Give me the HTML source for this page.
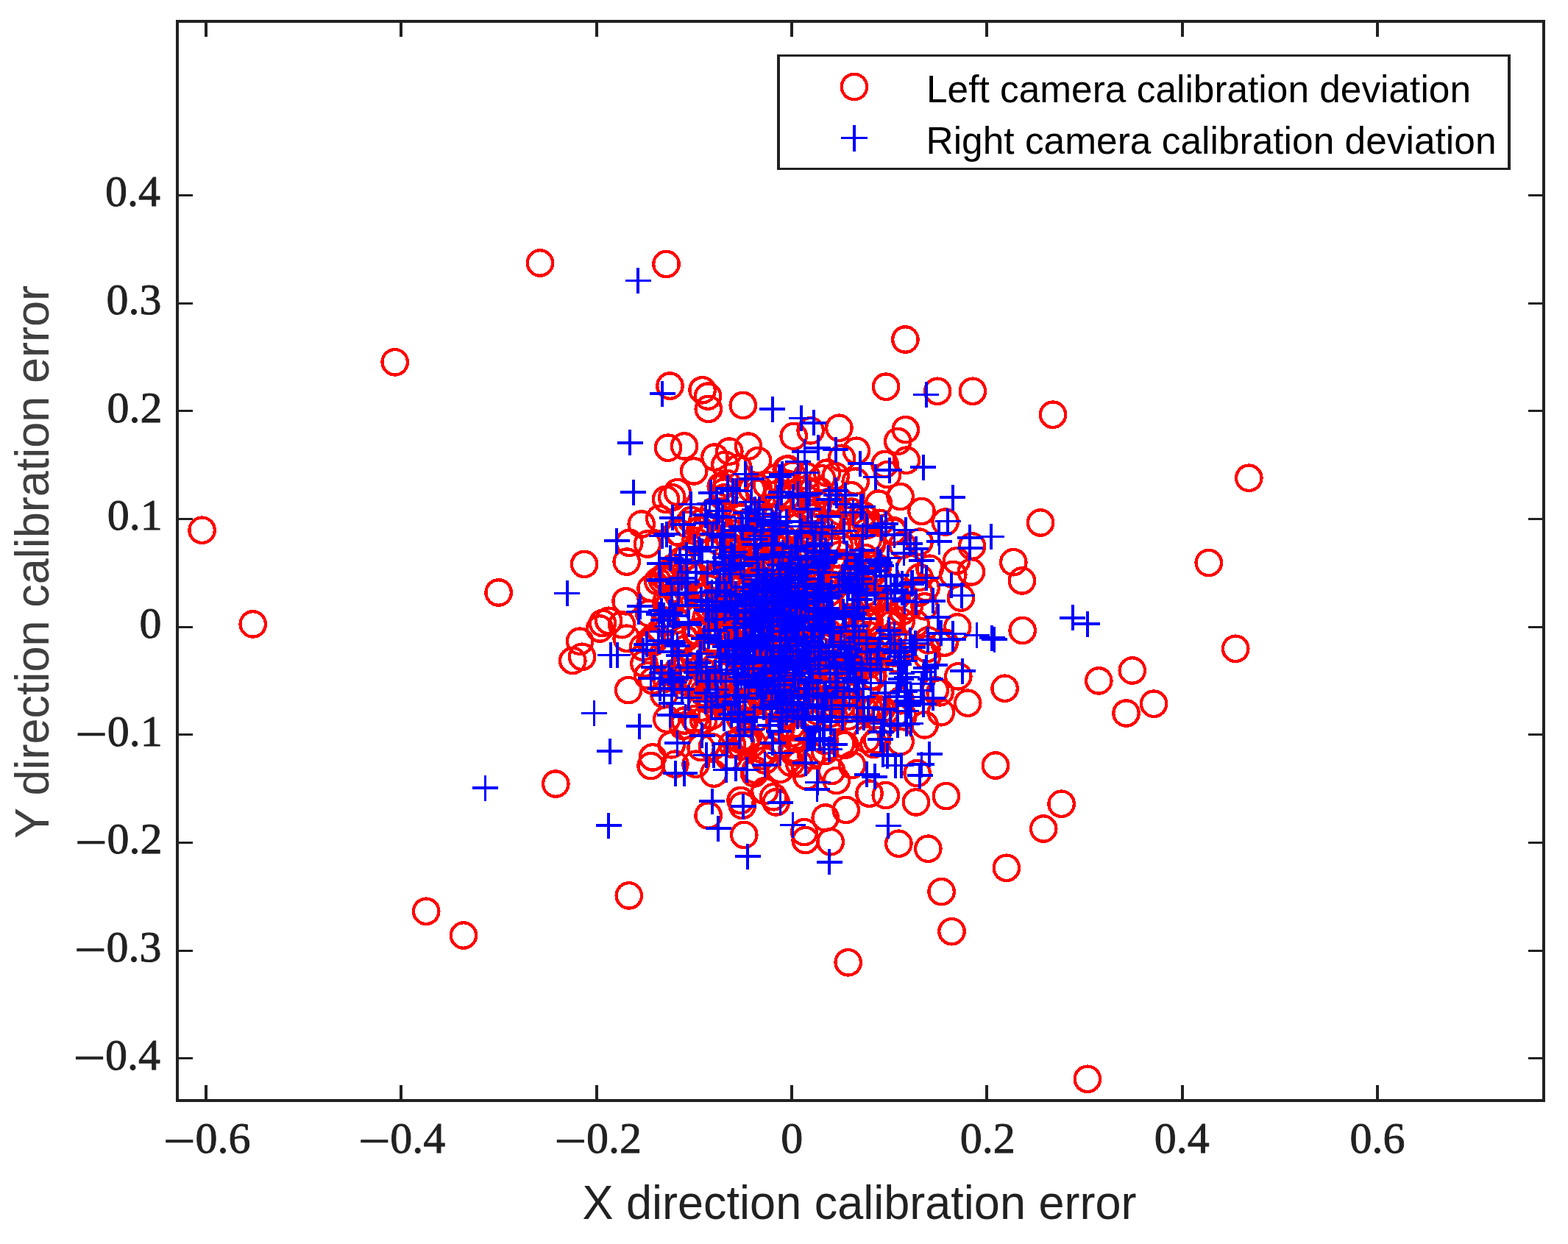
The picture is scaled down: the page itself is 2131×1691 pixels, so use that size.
<!DOCTYPE html>
<html><head><meta charset="utf-8"><title>Calibration error scatter</title>
<style>html,body{margin:0;padding:0;background:#fff;overflow:hidden}svg{display:block}</style>
</head><body><svg width="2131" height="1691" viewBox="0 0 2131 1691"><rect x="0" y="0" width="2131" height="1691" fill="#fff"/><clipPath id="c"><rect x="241.2" y="29" width="1856.8" height="1467"/></clipPath><g clip-path="url(#c)"><g fill="none" stroke="#f00" stroke-width="4.3" shape-rendering="crispEdges"><circle cx="908.0" cy="608.7" r="17.2"/><circle cx="930.1" cy="606.4" r="17.2"/><circle cx="1017.1" cy="606.6" r="17.2"/><circle cx="991.3" cy="613.6" r="17.2"/><circle cx="971.4" cy="621.6" r="17.2"/><circle cx="1030.1" cy="626.1" r="17.2"/><circle cx="1078.7" cy="592.9" r="17.2"/><circle cx="1068.8" cy="638.0" r="17.2"/><circle cx="943.2" cy="640.4" r="17.2"/><circle cx="987.8" cy="656.8" r="17.2"/><circle cx="1041.8" cy="659.2" r="17.2"/><circle cx="920.9" cy="669.1" r="17.2"/><circle cx="913.3" cy="676.2" r="17.2"/><circle cx="970.2" cy="694.4" r="17.2"/><circle cx="1007.8" cy="703.7" r="17.2"/><circle cx="871.7" cy="712.5" r="17.2"/><circle cx="896.3" cy="704.9" r="17.2"/><circle cx="855.3" cy="737.8" r="17.2"/><circle cx="879.9" cy="739.5" r="17.2"/><circle cx="851.7" cy="763.6" r="17.2"/><circle cx="935.0" cy="713.1" r="17.2"/><circle cx="959.7" cy="717.8" r="17.2"/><circle cx="1068.8" cy="675.6" r="17.2"/><circle cx="1140.4" cy="581.7" r="17.2"/><circle cx="1230.8" cy="584.1" r="17.2"/><circle cx="1220.2" cy="599.9" r="17.2"/><circle cx="1163.9" cy="612.8" r="17.2"/><circle cx="1144.0" cy="622.8" r="17.2"/><circle cx="1232.0" cy="625.7" r="17.2"/><circle cx="1202.6" cy="631.0" r="17.2"/><circle cx="1124.0" cy="642.7" r="17.2"/><circle cx="1162.7" cy="654.5" r="17.2"/><circle cx="1206.1" cy="645.1" r="17.2"/><circle cx="1101.7" cy="585.3" r="17.2"/><circle cx="1113.5" cy="667.4" r="17.2"/><circle cx="1156.9" cy="673.2" r="17.2"/><circle cx="1223.7" cy="675.0" r="17.2"/><circle cx="1252.5" cy="694.9" r="17.2"/><circle cx="1284.7" cy="709.6" r="17.2"/><circle cx="1249.5" cy="736.6" r="17.2"/><circle cx="1321.1" cy="742.5" r="17.2"/><circle cx="1300.0" cy="762.4" r="17.2"/><circle cx="1214.4" cy="721.3" r="17.2"/><circle cx="1195.6" cy="710.8" r="17.2"/><circle cx="1131.1" cy="701.4" r="17.2"/><circle cx="850.6" cy="817.3" r="17.2"/><circle cx="851.7" cy="867.7" r="17.2"/><circle cx="854.1" cy="938.1" r="17.2"/><circle cx="884.6" cy="799.7" r="17.2"/><circle cx="882.2" cy="833.7" r="17.2"/><circle cx="886.9" cy="873.6" r="17.2"/><circle cx="1263.6" cy="772.7" r="17.2"/><circle cx="1295.3" cy="780.9" r="17.2"/><circle cx="1319.9" cy="777.4" r="17.2"/><circle cx="1305.9" cy="812.6" r="17.2"/><circle cx="1301.2" cy="852.5" r="17.2"/><circle cx="1283.6" cy="873.6" r="17.2"/><circle cx="1229.0" cy="877.1" r="17.2"/><circle cx="1260.1" cy="892.4" r="17.2"/><circle cx="1302.3" cy="919.3" r="17.2"/><circle cx="1270.7" cy="938.1" r="17.2"/><circle cx="1315.2" cy="955.7" r="17.2"/><circle cx="1249.5" cy="805.5" r="17.2"/><circle cx="1256.6" cy="824.3" r="17.2"/><circle cx="906.3" cy="977.7" r="17.2"/><circle cx="947.9" cy="982.4" r="17.2"/><circle cx="956.1" cy="978.9" r="17.2"/><circle cx="912.7" cy="1012.3" r="17.2"/><circle cx="886.9" cy="1029.4" r="17.2"/><circle cx="884.6" cy="1041.1" r="17.2"/><circle cx="917.4" cy="1038.7" r="17.2"/><circle cx="945.6" cy="1038.7" r="17.2"/><circle cx="952.6" cy="1015.9" r="17.2"/><circle cx="970.2" cy="1051.6" r="17.2"/><circle cx="967.9" cy="1015.3" r="17.2"/><circle cx="994.9" cy="1011.8" r="17.2"/><circle cx="1013.6" cy="1009.4" r="17.2"/><circle cx="1026.5" cy="1046.9" r="17.2"/><circle cx="1039.4" cy="1075.1" r="17.2"/><circle cx="1051.2" cy="1083.3" r="17.2"/><circle cx="1006.6" cy="1088.0" r="17.2"/><circle cx="1008.9" cy="1095.0" r="17.2"/><circle cx="962.6" cy="1108.5" r="17.2"/><circle cx="1011.3" cy="1134.9" r="17.2"/><circle cx="1054.7" cy="1090.4" r="17.2"/><circle cx="1256.6" cy="985.4" r="17.2"/><circle cx="1278.9" cy="968.3" r="17.2"/><circle cx="1285.9" cy="1082.1" r="17.2"/><circle cx="1244.9" cy="1090.4" r="17.2"/><circle cx="1246.6" cy="1051.1" r="17.2"/><circle cx="1223.7" cy="1008.2" r="17.2"/><circle cx="1203.8" cy="1081.0" r="17.2"/><circle cx="1181.5" cy="1078.6" r="17.2"/><circle cx="1149.8" cy="1100.9" r="17.2"/><circle cx="1121.7" cy="1111.5" r="17.2"/><circle cx="1128.7" cy="1144.3" r="17.2"/><circle cx="1094.7" cy="1142.0" r="17.2"/><circle cx="1221.4" cy="1146.7" r="17.2"/><circle cx="1261.3" cy="1153.7" r="17.2"/><circle cx="1158.0" cy="1039.9" r="17.2"/><circle cx="1136.9" cy="1061.0" r="17.2"/><circle cx="910.5" cy="524.6" r="17.2"/><circle cx="954.6" cy="530.3" r="17.2"/><circle cx="962.1" cy="538.6" r="17.2"/><circle cx="962.8" cy="555.9" r="17.2"/><circle cx="1009.8" cy="550.9" r="17.2"/><circle cx="1003.4" cy="636.2" r="17.2"/><circle cx="985.4" cy="631.7" r="17.2"/><circle cx="1274.1" cy="531.8" r="17.2"/><circle cx="1321.9" cy="531.8" r="17.2"/><circle cx="794.1" cy="766.9" r="17.2"/><circle cx="818.9" cy="847.0" r="17.2"/><circle cx="815.1" cy="854.5" r="17.2"/><circle cx="845.2" cy="849.2" r="17.2"/><circle cx="788.1" cy="871.7" r="17.2"/><circle cx="791.1" cy="892.8" r="17.2"/><circle cx="778.3" cy="898.0" r="17.2"/><circle cx="1277.6" cy="941.3" r="17.2"/><circle cx="1093.1" cy="1131.1" r="17.2"/><circle cx="827.1" cy="843.8" r="17.2"/><circle cx="905.1" cy="678.8" r="17.2"/><circle cx="733.9" cy="357.5" r="17.2"/><circle cx="905.5" cy="359.0" r="17.2"/><circle cx="536.7" cy="492.3" r="17.2"/><circle cx="274.6" cy="720.7" r="17.2"/><circle cx="343.7" cy="848.4" r="17.2"/><circle cx="677.6" cy="805.5" r="17.2"/><circle cx="1230.4" cy="461.5" r="17.2"/><circle cx="1204.1" cy="525.7" r="17.2"/><circle cx="1431.0" cy="563.7" r="17.2"/><circle cx="1697.3" cy="649.7" r="17.2"/><circle cx="1414.1" cy="710.5" r="17.2"/><circle cx="1642.8" cy="765.0" r="17.2"/><circle cx="1377.3" cy="764.2" r="17.2"/><circle cx="1388.9" cy="789.4" r="17.2"/><circle cx="1389.7" cy="857.0" r="17.2"/><circle cx="1679.2" cy="881.8" r="17.2"/><circle cx="1538.8" cy="911.5" r="17.2"/><circle cx="1493.3" cy="925.4" r="17.2"/><circle cx="755.3" cy="1065.6" r="17.2"/><circle cx="579.2" cy="1238.8" r="17.2"/><circle cx="629.9" cy="1271.5" r="17.2"/><circle cx="854.8" cy="1217.4" r="17.2"/><circle cx="1365.6" cy="935.7" r="17.2"/><circle cx="1530.5" cy="969.5" r="17.2"/><circle cx="1568.1" cy="956.7" r="17.2"/><circle cx="1352.9" cy="1040.5" r="17.2"/><circle cx="1442.6" cy="1092.7" r="17.2"/><circle cx="1418.2" cy="1126.5" r="17.2"/><circle cx="1367.9" cy="1179.8" r="17.2"/><circle cx="1279.6" cy="1212.1" r="17.2"/><circle cx="1293.5" cy="1266.2" r="17.2"/><circle cx="1152.7" cy="1308.3" r="17.2"/><circle cx="1477.9" cy="1466.8" r="17.2"/><circle cx="1113.5" cy="950.7" r="17.2"/><circle cx="1111.7" cy="685.1" r="17.2"/><circle cx="1180.6" cy="903.8" r="17.2"/><circle cx="1007.6" cy="920.6" r="17.2"/><circle cx="1115.7" cy="884.8" r="17.2"/><circle cx="1075.4" cy="916.3" r="17.2"/><circle cx="983.6" cy="827.6" r="17.2"/><circle cx="1014.1" cy="922.9" r="17.2"/><circle cx="1076.8" cy="811.4" r="17.2"/><circle cx="978.2" cy="815.9" r="17.2"/><circle cx="1073.0" cy="813.5" r="17.2"/><circle cx="1227.3" cy="973.8" r="17.2"/><circle cx="1051.0" cy="795.2" r="17.2"/><circle cx="1097.6" cy="875.2" r="17.2"/><circle cx="1149.6" cy="930.9" r="17.2"/><circle cx="1092.1" cy="861.6" r="17.2"/><circle cx="924.7" cy="762.6" r="17.2"/><circle cx="1063.4" cy="729.9" r="17.2"/><circle cx="1060.2" cy="859.9" r="17.2"/><circle cx="1076.3" cy="784.7" r="17.2"/><circle cx="1143.2" cy="959.4" r="17.2"/><circle cx="1110.5" cy="745.7" r="17.2"/><circle cx="1159.8" cy="785.3" r="17.2"/><circle cx="1177.5" cy="714.0" r="17.2"/><circle cx="1181.7" cy="845.5" r="17.2"/><circle cx="922.2" cy="808.8" r="17.2"/><circle cx="1078.5" cy="882.1" r="17.2"/><circle cx="954.1" cy="709.6" r="17.2"/><circle cx="1096.0" cy="789.7" r="17.2"/><circle cx="1100.3" cy="942.9" r="17.2"/><circle cx="874.1" cy="879.8" r="17.2"/><circle cx="1219.0" cy="810.8" r="17.2"/><circle cx="974.7" cy="942.0" r="17.2"/><circle cx="1102.4" cy="960.0" r="17.2"/><circle cx="1030.6" cy="662.8" r="17.2"/><circle cx="1058.8" cy="792.3" r="17.2"/><circle cx="1165.0" cy="872.2" r="17.2"/><circle cx="1178.1" cy="933.0" r="17.2"/><circle cx="995.2" cy="847.9" r="17.2"/><circle cx="1125.5" cy="906.6" r="17.2"/><circle cx="1177.1" cy="880.1" r="17.2"/><circle cx="1060.6" cy="815.6" r="17.2"/><circle cx="1055.4" cy="852.1" r="17.2"/><circle cx="901.0" cy="889.6" r="17.2"/><circle cx="993.8" cy="955.8" r="17.2"/><circle cx="1056.9" cy="931.6" r="17.2"/><circle cx="1218.3" cy="895.9" r="17.2"/><circle cx="989.4" cy="866.0" r="17.2"/><circle cx="1049.0" cy="954.5" r="17.2"/><circle cx="1076.1" cy="849.7" r="17.2"/><circle cx="986.3" cy="906.7" r="17.2"/><circle cx="947.9" cy="931.2" r="17.2"/><circle cx="921.9" cy="921.6" r="17.2"/><circle cx="971.1" cy="784.7" r="17.2"/><circle cx="1030.2" cy="914.5" r="17.2"/><circle cx="1023.4" cy="882.7" r="17.2"/><circle cx="1050.8" cy="742.4" r="17.2"/><circle cx="1033.6" cy="729.2" r="17.2"/><circle cx="1072.8" cy="707.5" r="17.2"/><circle cx="1065.6" cy="841.3" r="17.2"/><circle cx="1133.4" cy="795.4" r="17.2"/><circle cx="1044.6" cy="901.1" r="17.2"/><circle cx="1105.9" cy="703.1" r="17.2"/><circle cx="1172.0" cy="774.2" r="17.2"/><circle cx="945.3" cy="735.4" r="17.2"/><circle cx="1025.1" cy="1051.4" r="17.2"/><circle cx="930.9" cy="868.0" r="17.2"/><circle cx="1179.9" cy="818.4" r="17.2"/><circle cx="996.5" cy="876.9" r="17.2"/><circle cx="1156.0" cy="931.0" r="17.2"/><circle cx="1000.9" cy="832.3" r="17.2"/><circle cx="1063.3" cy="861.6" r="17.2"/><circle cx="1068.4" cy="869.7" r="17.2"/><circle cx="1003.0" cy="701.4" r="17.2"/><circle cx="1148.5" cy="1012.7" r="17.2"/><circle cx="1131.2" cy="868.1" r="17.2"/><circle cx="1177.6" cy="705.6" r="17.2"/><circle cx="978.4" cy="858.9" r="17.2"/><circle cx="885.4" cy="869.1" r="17.2"/><circle cx="1016.9" cy="1001.3" r="17.2"/><circle cx="1077.0" cy="645.8" r="17.2"/><circle cx="1205.2" cy="869.0" r="17.2"/><circle cx="1137.8" cy="714.9" r="17.2"/><circle cx="944.2" cy="894.6" r="17.2"/><circle cx="991.2" cy="845.1" r="17.2"/><circle cx="955.7" cy="811.0" r="17.2"/><circle cx="1132.2" cy="767.1" r="17.2"/><circle cx="1043.3" cy="777.5" r="17.2"/><circle cx="1056.0" cy="701.7" r="17.2"/><circle cx="1019.4" cy="822.1" r="17.2"/><circle cx="1032.0" cy="855.1" r="17.2"/><circle cx="1036.8" cy="942.2" r="17.2"/><circle cx="1033.2" cy="830.9" r="17.2"/><circle cx="992.2" cy="782.2" r="17.2"/><circle cx="920.3" cy="912.8" r="17.2"/><circle cx="934.9" cy="754.8" r="17.2"/><circle cx="1115.1" cy="898.3" r="17.2"/><circle cx="1122.5" cy="880.4" r="17.2"/><circle cx="902.5" cy="944.3" r="17.2"/><circle cx="987.9" cy="707.2" r="17.2"/><circle cx="1083.5" cy="825.7" r="17.2"/><circle cx="1096.3" cy="647.3" r="17.2"/><circle cx="887.2" cy="925.4" r="17.2"/><circle cx="1029.4" cy="888.6" r="17.2"/><circle cx="1031.2" cy="840.5" r="17.2"/><circle cx="1101.5" cy="754.7" r="17.2"/><circle cx="1153.4" cy="789.3" r="17.2"/><circle cx="967.6" cy="857.6" r="17.2"/><circle cx="1125.4" cy="819.4" r="17.2"/><circle cx="968.5" cy="925.5" r="17.2"/><circle cx="1076.7" cy="677.9" r="17.2"/><circle cx="1075.4" cy="841.1" r="17.2"/><circle cx="1179.8" cy="733.7" r="17.2"/><circle cx="996.9" cy="889.6" r="17.2"/><circle cx="988.2" cy="756.8" r="17.2"/><circle cx="1175.3" cy="843.0" r="17.2"/><circle cx="1174.6" cy="791.8" r="17.2"/><circle cx="1038.2" cy="908.7" r="17.2"/><circle cx="962.9" cy="902.8" r="17.2"/><circle cx="1095.9" cy="763.6" r="17.2"/><circle cx="904.9" cy="819.8" r="17.2"/><circle cx="966.9" cy="973.2" r="17.2"/><circle cx="1089.3" cy="945.8" r="17.2"/><circle cx="1088.2" cy="880.9" r="17.2"/><circle cx="978.0" cy="931.5" r="17.2"/><circle cx="1000.9" cy="828.3" r="17.2"/><circle cx="1014.2" cy="760.3" r="17.2"/><circle cx="1088.6" cy="811.6" r="17.2"/><circle cx="1244.7" cy="848.0" r="17.2"/><circle cx="1110.9" cy="967.0" r="17.2"/><circle cx="1035.9" cy="1027.6" r="17.2"/><circle cx="996.1" cy="747.0" r="17.2"/><circle cx="1028.0" cy="833.7" r="17.2"/><circle cx="903.8" cy="843.6" r="17.2"/><circle cx="1062.3" cy="767.8" r="17.2"/><circle cx="963.0" cy="799.9" r="17.2"/><circle cx="1045.2" cy="717.4" r="17.2"/><circle cx="961.6" cy="824.6" r="17.2"/><circle cx="1009.5" cy="965.4" r="17.2"/><circle cx="1208.5" cy="850.0" r="17.2"/><circle cx="1128.8" cy="681.1" r="17.2"/><circle cx="1148.5" cy="844.2" r="17.2"/><circle cx="1130.2" cy="1048.0" r="17.2"/><circle cx="940.1" cy="922.0" r="17.2"/><circle cx="914.4" cy="786.1" r="17.2"/><circle cx="1096.3" cy="924.7" r="17.2"/><circle cx="1081.0" cy="748.9" r="17.2"/><circle cx="1005.6" cy="958.6" r="17.2"/><circle cx="1071.3" cy="637.5" r="17.2"/><circle cx="1173.2" cy="900.0" r="17.2"/><circle cx="1176.8" cy="805.9" r="17.2"/><circle cx="1171.4" cy="715.4" r="17.2"/><circle cx="1140.4" cy="786.7" r="17.2"/><circle cx="1152.9" cy="973.7" r="17.2"/><circle cx="983.7" cy="841.6" r="17.2"/><circle cx="1076.7" cy="996.7" r="17.2"/><circle cx="1157.3" cy="695.6" r="17.2"/><circle cx="1126.9" cy="941.1" r="17.2"/><circle cx="1007.6" cy="1014.7" r="17.2"/><circle cx="1134.0" cy="975.3" r="17.2"/><circle cx="991.8" cy="915.5" r="17.2"/><circle cx="1086.0" cy="1037.8" r="17.2"/><circle cx="1071.8" cy="971.8" r="17.2"/><circle cx="963.6" cy="824.9" r="17.2"/><circle cx="1060.4" cy="990.4" r="17.2"/><circle cx="1141.6" cy="754.0" r="17.2"/><circle cx="1153.8" cy="944.3" r="17.2"/><circle cx="1058.6" cy="815.8" r="17.2"/><circle cx="1094.6" cy="877.3" r="17.2"/><circle cx="968.1" cy="940.8" r="17.2"/><circle cx="907.2" cy="779.0" r="17.2"/><circle cx="880.1" cy="918.3" r="17.2"/><circle cx="1185.1" cy="895.2" r="17.2"/><circle cx="1213.8" cy="722.7" r="17.2"/><circle cx="928.5" cy="807.2" r="17.2"/><circle cx="930.5" cy="979.5" r="17.2"/><circle cx="1175.8" cy="758.0" r="17.2"/><circle cx="1180.4" cy="863.2" r="17.2"/><circle cx="1055.3" cy="855.2" r="17.2"/><circle cx="1047.7" cy="924.9" r="17.2"/><circle cx="1109.2" cy="804.3" r="17.2"/><circle cx="1192.8" cy="771.6" r="17.2"/><circle cx="1106.4" cy="900.8" r="17.2"/><circle cx="1249.5" cy="784.8" r="17.2"/><circle cx="1048.7" cy="763.9" r="17.2"/><circle cx="1142.4" cy="854.1" r="17.2"/><circle cx="939.6" cy="707.0" r="17.2"/><circle cx="1005.3" cy="763.5" r="17.2"/><circle cx="1176.2" cy="892.7" r="17.2"/><circle cx="1020.6" cy="854.8" r="17.2"/><circle cx="1181.5" cy="812.9" r="17.2"/><circle cx="1076.6" cy="787.7" r="17.2"/><circle cx="978.1" cy="825.0" r="17.2"/><circle cx="1078.2" cy="1017.7" r="17.2"/><circle cx="1021.9" cy="881.1" r="17.2"/><circle cx="1074.7" cy="819.0" r="17.2"/><circle cx="1048.1" cy="866.0" r="17.2"/><circle cx="1124.1" cy="737.4" r="17.2"/><circle cx="1070.9" cy="657.7" r="17.2"/><circle cx="1103.3" cy="925.9" r="17.2"/><circle cx="1091.7" cy="883.7" r="17.2"/><circle cx="1142.8" cy="764.9" r="17.2"/><circle cx="1043.3" cy="911.9" r="17.2"/><circle cx="1192.2" cy="897.4" r="17.2"/><circle cx="1192.0" cy="1006.3" r="17.2"/><circle cx="1055.9" cy="745.4" r="17.2"/><circle cx="930.1" cy="868.3" r="17.2"/><circle cx="1205.2" cy="882.0" r="17.2"/><circle cx="1092.7" cy="800.6" r="17.2"/><circle cx="1099.9" cy="851.5" r="17.2"/><circle cx="927.9" cy="986.8" r="17.2"/><circle cx="965.4" cy="931.6" r="17.2"/><circle cx="1142.5" cy="880.5" r="17.2"/><circle cx="915.1" cy="771.5" r="17.2"/><circle cx="972.2" cy="827.7" r="17.2"/><circle cx="1169.1" cy="879.5" r="17.2"/><circle cx="1161.0" cy="714.6" r="17.2"/><circle cx="1185.4" cy="919.1" r="17.2"/><circle cx="1078.7" cy="1022.7" r="17.2"/><circle cx="916.4" cy="777.1" r="17.2"/><circle cx="1002.6" cy="923.9" r="17.2"/><circle cx="1104.2" cy="692.2" r="17.2"/><circle cx="1215.6" cy="971.9" r="17.2"/><circle cx="1074.4" cy="971.0" r="17.2"/><circle cx="956.1" cy="941.9" r="17.2"/><circle cx="1061.5" cy="989.4" r="17.2"/><circle cx="1127.9" cy="711.8" r="17.2"/><circle cx="1087.4" cy="1000.3" r="17.2"/><circle cx="936.5" cy="778.1" r="17.2"/><circle cx="979.8" cy="661.0" r="17.2"/><circle cx="1187.4" cy="1011.9" r="17.2"/><circle cx="1168.0" cy="878.3" r="17.2"/><circle cx="1065.8" cy="877.9" r="17.2"/><circle cx="984.2" cy="959.7" r="17.2"/><circle cx="1197.5" cy="964.6" r="17.2"/><circle cx="1008.3" cy="857.8" r="17.2"/><circle cx="1154.2" cy="957.9" r="17.2"/><circle cx="1056.8" cy="886.7" r="17.2"/><circle cx="1154.7" cy="805.4" r="17.2"/><circle cx="1186.8" cy="813.0" r="17.2"/><circle cx="987.5" cy="954.5" r="17.2"/><circle cx="944.8" cy="859.8" r="17.2"/><circle cx="1032.1" cy="669.7" r="17.2"/><circle cx="894.1" cy="790.2" r="17.2"/><circle cx="1006.3" cy="1005.5" r="17.2"/><circle cx="1117.0" cy="650.4" r="17.2"/><circle cx="969.4" cy="936.1" r="17.2"/><circle cx="1069.3" cy="809.4" r="17.2"/><circle cx="902.4" cy="783.9" r="17.2"/><circle cx="1073.3" cy="672.0" r="17.2"/><circle cx="1087.4" cy="959.0" r="17.2"/><circle cx="1042.8" cy="939.3" r="17.2"/><circle cx="1158.5" cy="903.9" r="17.2"/><circle cx="1035.4" cy="762.9" r="17.2"/><circle cx="970.6" cy="907.5" r="17.2"/><circle cx="1186.1" cy="734.0" r="17.2"/><circle cx="1014.8" cy="804.1" r="17.2"/><circle cx="1151.3" cy="865.2" r="17.2"/><circle cx="1120.3" cy="922.4" r="17.2"/><circle cx="1075.6" cy="986.8" r="17.2"/><circle cx="984.5" cy="668.5" r="17.2"/><circle cx="1005.9" cy="976.8" r="17.2"/><circle cx="1092.9" cy="773.2" r="17.2"/><circle cx="943.6" cy="781.9" r="17.2"/><circle cx="1023.6" cy="777.4" r="17.2"/><circle cx="900.1" cy="788.5" r="17.2"/><circle cx="1094.0" cy="754.6" r="17.2"/><circle cx="1211.4" cy="839.1" r="17.2"/><circle cx="1021.8" cy="665.2" r="17.2"/><circle cx="1166.2" cy="883.9" r="17.2"/><circle cx="1009.0" cy="956.5" r="17.2"/><circle cx="967.4" cy="928.4" r="17.2"/><circle cx="959.1" cy="914.7" r="17.2"/><circle cx="1102.5" cy="1027.1" r="17.2"/><circle cx="973.3" cy="788.5" r="17.2"/><circle cx="944.0" cy="977.1" r="17.2"/><circle cx="1127.8" cy="970.3" r="17.2"/><circle cx="1034.8" cy="918.5" r="17.2"/><circle cx="984.3" cy="676.5" r="17.2"/><circle cx="1006.1" cy="769.3" r="17.2"/><circle cx="1008.1" cy="883.9" r="17.2"/><circle cx="1002.5" cy="738.4" r="17.2"/><circle cx="1259.3" cy="882.2" r="17.2"/><circle cx="1003.3" cy="864.5" r="17.2"/><circle cx="933.6" cy="880.6" r="17.2"/><circle cx="1072.4" cy="914.5" r="17.2"/><circle cx="1025.4" cy="978.4" r="17.2"/><circle cx="977.0" cy="736.2" r="17.2"/><circle cx="997.8" cy="725.3" r="17.2"/><circle cx="1189.6" cy="963.4" r="17.2"/><circle cx="1224.7" cy="844.8" r="17.2"/><circle cx="1104.9" cy="775.7" r="17.2"/><circle cx="933.9" cy="903.9" r="17.2"/><circle cx="1104.2" cy="709.6" r="17.2"/><circle cx="1050.5" cy="769.2" r="17.2"/><circle cx="1008.5" cy="712.6" r="17.2"/><circle cx="1186.3" cy="918.7" r="17.2"/><circle cx="1214.0" cy="864.3" r="17.2"/><circle cx="916.2" cy="800.6" r="17.2"/><circle cx="929.0" cy="903.8" r="17.2"/><circle cx="1215.8" cy="887.5" r="17.2"/><circle cx="998.5" cy="800.1" r="17.2"/><circle cx="1094.9" cy="665.5" r="17.2"/><circle cx="1088.2" cy="870.9" r="17.2"/><circle cx="1004.8" cy="793.7" r="17.2"/><circle cx="1090.5" cy="743.2" r="17.2"/><circle cx="971.1" cy="943.0" r="17.2"/><circle cx="1096.4" cy="1055.3" r="17.2"/><circle cx="1182.3" cy="964.8" r="17.2"/><circle cx="980.5" cy="661.4" r="17.2"/><circle cx="1039.7" cy="1033.6" r="17.2"/><circle cx="1035.9" cy="939.9" r="17.2"/><circle cx="990.8" cy="731.9" r="17.2"/><circle cx="1060.4" cy="1045.8" r="17.2"/><circle cx="925.6" cy="814.9" r="17.2"/><circle cx="1076.3" cy="1019.0" r="17.2"/><circle cx="1226.6" cy="831.0" r="17.2"/><circle cx="988.3" cy="835.3" r="17.2"/><circle cx="1178.1" cy="891.0" r="17.2"/><circle cx="1083.8" cy="716.3" r="17.2"/><circle cx="918.7" cy="843.2" r="17.2"/><circle cx="1013.4" cy="886.5" r="17.2"/><circle cx="1067.3" cy="822.9" r="17.2"/><circle cx="959.7" cy="839.3" r="17.2"/><circle cx="991.8" cy="823.0" r="17.2"/><circle cx="1057.9" cy="923.0" r="17.2"/><circle cx="995.6" cy="800.8" r="17.2"/><circle cx="1194.2" cy="814.0" r="17.2"/><circle cx="1034.1" cy="949.3" r="17.2"/><circle cx="1098.2" cy="852.7" r="17.2"/><circle cx="1091.9" cy="686.4" r="17.2"/><circle cx="1121.0" cy="1007.2" r="17.2"/><circle cx="1135.6" cy="647.2" r="17.2"/><circle cx="1100.2" cy="728.9" r="17.2"/><circle cx="1039.2" cy="858.5" r="17.2"/><circle cx="1058.6" cy="941.8" r="17.2"/><circle cx="1143.2" cy="1010.9" r="17.2"/><circle cx="1013.9" cy="932.8" r="17.2"/><circle cx="1177.4" cy="1004.7" r="17.2"/><circle cx="1022.6" cy="883.7" r="17.2"/><circle cx="1079.6" cy="1002.2" r="17.2"/><circle cx="1258.6" cy="799.1" r="17.2"/><circle cx="1024.1" cy="919.0" r="17.2"/><circle cx="1159.3" cy="912.5" r="17.2"/><circle cx="990.4" cy="1028.5" r="17.2"/><circle cx="1075.1" cy="1036.8" r="17.2"/><circle cx="951.5" cy="720.0" r="17.2"/><circle cx="1099.2" cy="852.0" r="17.2"/><circle cx="1101.7" cy="743.9" r="17.2"/><circle cx="1120.9" cy="1021.1" r="17.2"/><circle cx="909.6" cy="821.3" r="17.2"/><circle cx="1099.7" cy="829.6" r="17.2"/><circle cx="1224.0" cy="952.2" r="17.2"/><circle cx="1113.5" cy="773.9" r="17.2"/><circle cx="1029.7" cy="785.0" r="17.2"/><circle cx="1158.9" cy="714.1" r="17.2"/><circle cx="934.8" cy="922.9" r="17.2"/><circle cx="966.8" cy="950.9" r="17.2"/><circle cx="1054.1" cy="649.6" r="17.2"/><circle cx="1063.0" cy="960.4" r="17.2"/><circle cx="1033.0" cy="698.3" r="17.2"/><circle cx="1055.3" cy="945.1" r="17.2"/><circle cx="904.8" cy="846.2" r="17.2"/><circle cx="1088.5" cy="792.7" r="17.2"/><circle cx="1194.1" cy="684.7" r="17.2"/><circle cx="1054.8" cy="1015.2" r="17.2"/><circle cx="1093.1" cy="758.0" r="17.2"/><circle cx="1040.1" cy="855.1" r="17.2"/><circle cx="1020.4" cy="742.4" r="17.2"/><circle cx="1082.7" cy="894.5" r="17.2"/><circle cx="1166.1" cy="843.1" r="17.2"/><circle cx="897.9" cy="857.5" r="17.2"/><circle cx="1167.1" cy="910.6" r="17.2"/><circle cx="1156.4" cy="963.4" r="17.2"/><circle cx="1176.9" cy="840.8" r="17.2"/><circle cx="1112.2" cy="786.6" r="17.2"/><circle cx="1151.7" cy="945.1" r="17.2"/><circle cx="952.5" cy="961.9" r="17.2"/><circle cx="1012.9" cy="747.9" r="17.2"/><circle cx="1140.3" cy="768.5" r="17.2"/><circle cx="1172.7" cy="699.7" r="17.2"/><circle cx="1073.9" cy="740.1" r="17.2"/><circle cx="1041.5" cy="799.1" r="17.2"/><circle cx="934.2" cy="927.5" r="17.2"/><circle cx="920.3" cy="723.1" r="17.2"/><circle cx="1176.7" cy="967.3" r="17.2"/><circle cx="1149.9" cy="888.3" r="17.2"/><circle cx="980.7" cy="721.6" r="17.2"/><circle cx="1177.8" cy="881.9" r="17.2"/><circle cx="1203.3" cy="967.5" r="17.2"/><circle cx="1043.0" cy="743.6" r="17.2"/><circle cx="1186.2" cy="920.2" r="17.2"/><circle cx="1029.5" cy="821.3" r="17.2"/><circle cx="1028.9" cy="805.7" r="17.2"/><circle cx="1024.3" cy="882.4" r="17.2"/><circle cx="1095.4" cy="952.8" r="17.2"/><circle cx="1068.7" cy="945.8" r="17.2"/><circle cx="1036.8" cy="934.6" r="17.2"/><circle cx="964.4" cy="936.5" r="17.2"/><circle cx="1068.2" cy="806.5" r="17.2"/><circle cx="1109.7" cy="716.8" r="17.2"/><circle cx="1064.8" cy="903.2" r="17.2"/><circle cx="1041.1" cy="767.3" r="17.2"/><circle cx="1080.6" cy="961.1" r="17.2"/><circle cx="1150.2" cy="964.0" r="17.2"/><circle cx="1002.7" cy="749.5" r="17.2"/><circle cx="1127.9" cy="938.7" r="17.2"/><circle cx="1013.0" cy="792.3" r="17.2"/><circle cx="1106.5" cy="913.9" r="17.2"/><circle cx="1142.5" cy="696.1" r="17.2"/><circle cx="1185.4" cy="738.8" r="17.2"/><circle cx="923.6" cy="724.3" r="17.2"/><circle cx="969.2" cy="868.4" r="17.2"/><circle cx="1006.1" cy="959.7" r="17.2"/><circle cx="1095.5" cy="910.7" r="17.2"/><circle cx="883.7" cy="871.8" r="17.2"/><circle cx="1133.4" cy="958.1" r="17.2"/><circle cx="999.2" cy="787.8" r="17.2"/><circle cx="1212.3" cy="848.2" r="17.2"/><circle cx="1056.7" cy="671.7" r="17.2"/><circle cx="1090.1" cy="928.7" r="17.2"/><circle cx="976.7" cy="784.6" r="17.2"/><circle cx="1261.7" cy="870.3" r="17.2"/><circle cx="1037.4" cy="705.9" r="17.2"/><circle cx="997.7" cy="816.8" r="17.2"/><circle cx="1236.3" cy="771.7" r="17.2"/><circle cx="1029.1" cy="953.4" r="17.2"/><circle cx="1043.2" cy="744.2" r="17.2"/><circle cx="1056.2" cy="904.1" r="17.2"/><circle cx="1058.9" cy="797.5" r="17.2"/><circle cx="1160.2" cy="776.9" r="17.2"/><circle cx="1028.3" cy="852.7" r="17.2"/><circle cx="1159.5" cy="820.4" r="17.2"/><circle cx="1226.4" cy="740.8" r="17.2"/><circle cx="1052.4" cy="893.5" r="17.2"/><circle cx="1023.3" cy="1010.4" r="17.2"/><circle cx="1046.4" cy="749.1" r="17.2"/><circle cx="1125.8" cy="859.8" r="17.2"/><circle cx="1186.4" cy="779.3" r="17.2"/><circle cx="1117.8" cy="927.3" r="17.2"/><circle cx="1105.4" cy="844.4" r="17.2"/><circle cx="988.3" cy="961.0" r="17.2"/><circle cx="1088.5" cy="910.0" r="17.2"/><circle cx="1029.9" cy="849.6" r="17.2"/><circle cx="947.5" cy="858.7" r="17.2"/><circle cx="1163.8" cy="859.6" r="17.2"/><circle cx="1175.1" cy="887.1" r="17.2"/><circle cx="1235.7" cy="824.2" r="17.2"/><circle cx="875.4" cy="902.1" r="17.2"/><circle cx="1052.2" cy="726.2" r="17.2"/><circle cx="1150.2" cy="881.0" r="17.2"/><circle cx="1125.4" cy="806.5" r="17.2"/><circle cx="1095.6" cy="879.8" r="17.2"/><circle cx="1070.7" cy="893.5" r="17.2"/><circle cx="1141.0" cy="742.0" r="17.2"/><circle cx="963.9" cy="946.0" r="17.2"/><circle cx="905.4" cy="922.4" r="17.2"/><circle cx="1015.1" cy="1005.9" r="17.2"/><circle cx="1178.7" cy="812.2" r="17.2"/><circle cx="908.3" cy="788.8" r="17.2"/></g><path d="M838.6 601.7h35.0M856.1 584.2v35.0M843.4 669.1h35.0M860.9 651.6v35.0M995.5 644.5h35.0M1013.0 627.0v35.0M1041.3 648.6h35.0M1058.8 631.1v35.0M1067.1 627.5h35.0M1084.6 610.0v35.0M948.6 669.7h35.0M966.1 652.2v35.0M971.5 663.9h35.0M989.0 646.4v35.0M983.5 667.4h35.0M1001.0 649.9v35.0M921.6 685.6h35.0M939.1 668.1v35.0M896.4 703.7h35.0M913.9 686.2v35.0M888.8 726.0h35.0M906.3 708.5v35.0M941.6 700.2h35.0M959.1 682.7v35.0M956.2 702.0h35.0M973.7 684.5v35.0M964.5 703.2h35.0M982.0 685.7v35.0M1008.4 692.6h35.0M1025.9 675.1v35.0M996.1 696.7h35.0M1013.6 679.2v35.0M1037.8 702.6h35.0M1055.3 685.1v35.0M1044.2 669.1h35.0M1061.7 651.6v35.0M1067.1 671.5h35.0M1084.6 654.0v35.0M893.5 758.9h35.0M911.0 741.4v35.0M932.2 746.0h35.0M949.7 728.5v35.0M961.5 743.6h35.0M979.0 726.1v35.0M982.0 721.3h35.0M999.5 703.8v35.0M1088.3 574.7h35.0M1105.8 557.2v35.0M1094.2 608.7h35.0M1111.7 591.2v35.0M1118.3 611.1h35.0M1135.8 593.6v35.0M1151.7 630.1h35.0M1169.2 612.6v35.0M1191.2 639.2h35.0M1208.7 621.7v35.0M1172.5 648.4h35.0M1190.0 630.9v35.0M1237.3 635.1h35.0M1254.8 617.6v35.0M1277.2 676.2h35.0M1294.7 658.7v35.0M1270.8 708.4h35.0M1288.3 690.9v35.0M1259.0 736.0h35.0M1276.5 718.5v35.0M1300.7 730.7h35.0M1318.2 713.2v35.0M1300.7 744.8h35.0M1318.2 727.3v35.0M1227.4 746.0h35.0M1244.9 728.5v35.0M1186.3 712.0h35.0M1203.8 694.5v35.0M1198.0 727.2h35.0M1215.5 709.7v35.0M1154.6 688.5h35.0M1172.1 671.0v35.0M1131.2 673.2h35.0M1148.7 655.7v35.0M1119.4 673.2h35.0M1136.9 655.7v35.0M1083.1 670.9h35.0M1100.6 653.4v35.0M850.7 831.4h35.0M868.2 813.9v35.0M867.1 921.7h35.0M884.6 904.2v35.0M861.2 875.9h35.0M878.7 858.4v35.0M879.4 789.1h35.0M896.9 771.6v35.0M904.6 806.7h35.0M922.1 789.2v35.0M909.3 936.9h35.0M926.8 919.4v35.0M895.2 955.7h35.0M912.7 938.2v35.0M1241.4 785.6h35.0M1258.9 768.1v35.0M1275.5 795.0h35.0M1293.0 777.5v35.0M1289.5 809.6h35.0M1307.0 792.1v35.0M1250.2 816.7h35.0M1267.7 799.2v35.0M1227.4 818.4h35.0M1244.9 800.9v35.0M1310.1 863.6h35.0M1327.6 846.1v35.0M1277.8 868.9h35.0M1295.3 851.4v35.0M1261.4 860.7h35.0M1278.9 843.2v35.0M1222.7 880.0h35.0M1240.2 862.5v35.0M1205.1 892.4h35.0M1222.6 874.9v35.0M1290.7 912.3h35.0M1308.2 894.8v35.0M1253.2 904.1h35.0M1270.7 886.6v35.0M1237.9 913.5h35.0M1255.4 896.0v35.0M1214.5 920.5h35.0M1232.0 903.0v35.0M1250.2 948.7h35.0M1267.7 931.2v35.0M1220.3 947.5h35.0M1237.8 930.0v35.0M1192.2 874.8h35.0M1209.7 857.3v35.0M851.2 987.1h35.0M868.7 969.6v35.0M902.9 1010.0h35.0M920.4 992.5v35.0M942.4 1026.4h35.0M959.9 1008.9v35.0M952.5 1026.4h35.0M970.0 1008.9v35.0M900.5 1051.1h35.0M918.0 1033.6v35.0M912.6 1051.1h35.0M930.1 1033.6v35.0M969.4 1046.4h35.0M986.9 1028.9v35.0M982.3 1044.6h35.0M999.8 1027.1v35.0M997.3 1046.4h35.0M1014.8 1028.9v35.0M1021.9 1039.9h35.0M1039.4 1022.4v35.0M950.4 1089.2h35.0M967.9 1071.7v35.0M958.6 1126.1h35.0M976.1 1108.6v35.0M992.6 1096.2h35.0M1010.1 1078.7v35.0M1043.1 1090.9h35.0M1060.6 1073.4v35.0M1060.1 1121.4h35.0M1077.6 1103.9v35.0M998.5 1164.3h35.0M1016.0 1146.8v35.0M987.3 1000.0h35.0M1004.8 982.5v35.0M1043.1 1023.5h35.0M1060.6 1006.0v35.0M892.9 971.9h35.0M910.4 954.4v35.0M914.0 974.2h35.0M931.5 956.7v35.0M1245.5 1025.2h35.0M1263.0 1007.7v35.0M1235.0 1039.3h35.0M1252.5 1021.8v35.0M1232.6 1054.0h35.0M1250.1 1036.5v35.0M1182.2 1025.8h35.0M1199.7 1008.3v35.0M1188.6 1027.0h35.0M1206.1 1009.5v35.0M1199.4 1040.5h35.0M1216.9 1023.0v35.0M1207.4 1040.5h35.0M1224.9 1023.0v35.0M1160.5 1052.8h35.0M1178.0 1035.3v35.0M1171.4 1055.7h35.0M1188.9 1038.2v35.0M1179.3 1004.7h35.0M1196.8 987.2v35.0M1202.7 985.9h35.0M1220.2 968.4v35.0M1220.3 983.6h35.0M1237.8 966.1v35.0M1147.6 980.1h35.0M1165.1 962.6v35.0M1169.9 978.9h35.0M1187.4 961.4v35.0M1189.8 1122.6h35.0M1207.3 1105.1v35.0M1093.6 1063.4h35.0M1111.1 1045.9v35.0M1093.0 1072.8h35.0M1110.5 1055.3v35.0M1102.4 1007.1h35.0M1119.9 989.6v35.0M1116.5 1011.8h35.0M1134.0 994.3v35.0M1079.5 1004.7h35.0M1097.0 987.2v35.0M1077.2 1036.4h35.0M1094.7 1018.9v35.0M882.5 535.3h35.0M900.0 517.8v35.0M1032.2 556.3h35.0M1049.7 538.8v35.0M1241.4 536.6h35.0M1258.9 519.1v35.0M1071.5 568.6h35.0M1089.0 551.1v35.0M1075.9 614.2h35.0M1093.4 596.7v35.0M1258.8 724.9h35.0M1276.3 707.4v35.0M1329.5 729.4h35.0M1347.0 711.9v35.0M820.5 735.0h35.0M838.0 717.5v35.0M753.3 806.4h35.0M770.8 788.9v35.0M812.3 890.5h35.0M829.8 873.0v35.0M821.7 890.5h35.0M839.2 873.0v35.0M790.1 969.4h35.0M807.6 951.9v35.0M811.4 1021.1h35.0M828.9 1003.6v35.0M809.6 1122.2h35.0M827.1 1104.7v35.0M878.8 765.7h35.0M896.3 748.2v35.0M852.2 824.3h35.0M869.7 806.8v35.0M1089.8 1003.4h35.0M1107.3 985.9v35.0M1219.3 957.3h35.0M1236.8 939.8v35.0M1277.8 861.5h35.0M1295.3 844.0v35.0M1235.2 762.2h35.0M1252.7 744.7v35.0M849.7 381.5h35.0M867.2 364.0v35.0M1440.2 839.7h35.0M1457.7 822.2v35.0M1460.4 848.0h35.0M1477.9 830.5v35.0M1330.5 867.1h35.0M1348.0 849.6v35.0M1333.9 869.0h35.0M1351.4 851.5v35.0M642.0 1071.3h35.0M659.5 1053.8v35.0M1109.6 1171.9h35.0M1127.1 1154.4v35.0M1118.1 934.8h35.0M1135.6 917.3v35.0M993.6 847.6h35.0M1011.1 830.1v35.0M1035.9 939.8h35.0M1053.4 922.3v35.0M1055.5 765.7h35.0M1073.0 748.2v35.0M1197.9 862.6h35.0M1215.4 845.1v35.0M1001.5 812.1h35.0M1019.0 794.6v35.0M1013.1 864.3h35.0M1030.6 846.8v35.0M1043.1 899.8h35.0M1060.6 882.3v35.0M1165.4 903.3h35.0M1182.9 885.8v35.0M966.2 726.6h35.0M983.7 709.1v35.0M1000.1 930.0h35.0M1017.6 912.5v35.0M1030.4 799.3h35.0M1047.9 781.8v35.0M1064.5 742.4h35.0M1082.0 724.9v35.0M972.5 888.8h35.0M990.0 871.3v35.0M1032.7 815.6h35.0M1050.2 798.1v35.0M1077.4 805.5h35.0M1094.9 788.0v35.0M1005.1 815.1h35.0M1022.6 797.6v35.0M1097.9 854.5h35.0M1115.4 837.0v35.0M968.5 827.0h35.0M986.0 809.5v35.0M1101.2 992.2h35.0M1118.7 974.7v35.0M972.3 875.7h35.0M989.8 858.2v35.0M1035.9 912.7h35.0M1053.4 895.2v35.0M1086.9 961.9h35.0M1104.4 944.4v35.0M1091.9 808.6h35.0M1109.4 791.1v35.0M1015.7 880.8h35.0M1033.2 863.3v35.0M1175.2 760.8h35.0M1192.7 743.3v35.0M1079.7 748.8h35.0M1097.2 731.3v35.0M935.3 906.5h35.0M952.8 889.0v35.0M1094.2 771.1h35.0M1111.7 753.6v35.0M1172.8 775.7h35.0M1190.3 758.2v35.0M970.4 899.6h35.0M987.9 882.1v35.0M1070.4 837.8h35.0M1087.9 820.3v35.0M1049.7 867.0h35.0M1067.2 849.5v35.0M1044.5 836.9h35.0M1062.0 819.4v35.0M1098.5 796.5h35.0M1116.0 779.0v35.0M1093.8 943.9h35.0M1111.3 926.4v35.0M1028.9 871.5h35.0M1046.4 854.0v35.0M1204.0 902.8h35.0M1221.5 885.3v35.0M1108.7 841.5h35.0M1126.2 824.0v35.0M993.9 765.5h35.0M1011.4 748.0v35.0M1089.5 885.6h35.0M1107.0 868.1v35.0M1041.9 914.5h35.0M1059.4 897.0v35.0M1011.0 934.4h35.0M1028.5 916.9v35.0M1057.4 847.2h35.0M1074.9 829.7v35.0M1054.5 842.5h35.0M1072.0 825.0v35.0M1067.3 944.6h35.0M1084.8 927.1v35.0M1106.2 827.0h35.0M1123.7 809.5v35.0M1179.8 768.8h35.0M1197.3 751.3v35.0M960.4 893.2h35.0M977.9 875.7v35.0M1118.1 907.9h35.0M1135.6 890.4v35.0M1107.2 813.0h35.0M1124.7 795.5v35.0M1067.7 776.6h35.0M1085.2 759.1v35.0M1179.4 910.1h35.0M1196.9 892.6v35.0M1107.9 701.8h35.0M1125.4 684.3v35.0M1112.6 963.5h35.0M1130.1 946.0v35.0M1142.1 910.0h35.0M1159.6 892.5v35.0M1054.4 824.0h35.0M1071.9 806.5v35.0M1097.8 879.1h35.0M1115.3 861.6v35.0M1071.5 826.5h35.0M1089.0 809.0v35.0M1175.6 761.2h35.0M1193.1 743.7v35.0M1052.9 805.9h35.0M1070.4 788.4v35.0M1128.8 958.7h35.0M1146.3 941.2v35.0M1144.1 907.4h35.0M1161.6 889.9v35.0M1091.7 841.8h35.0M1109.2 824.3v35.0M1056.0 824.2h35.0M1073.5 806.7v35.0M1085.0 873.6h35.0M1102.5 856.1v35.0M1052.0 886.2h35.0M1069.5 868.7v35.0M1092.4 838.3h35.0M1109.9 820.8v35.0M1087.1 928.2h35.0M1104.6 910.7v35.0M1020.6 961.4h35.0M1038.1 943.9v35.0M982.5 944.9h35.0M1000.0 927.4v35.0M1143.9 857.4h35.0M1161.4 839.9v35.0M1178.4 868.2h35.0M1195.9 850.7v35.0M1018.7 868.4h35.0M1036.2 850.9v35.0M1044.6 905.9h35.0M1062.1 888.4v35.0M946.3 926.0h35.0M963.8 908.5v35.0M1021.4 915.0h35.0M1038.9 897.5v35.0M943.5 818.1h35.0M961.0 800.6v35.0M1060.1 918.5h35.0M1077.6 901.0v35.0M966.8 976.7h35.0M984.3 959.2v35.0M1089.3 810.0h35.0M1106.8 792.5v35.0M1142.1 857.8h35.0M1159.6 840.3v35.0M1109.8 810.0h35.0M1127.3 792.5v35.0M1023.8 894.3h35.0M1041.3 876.8v35.0M1075.2 786.7h35.0M1092.7 769.2v35.0M1006.4 900.6h35.0M1023.9 883.1v35.0M1106.6 834.0h35.0M1124.1 816.5v35.0M1110.6 915.9h35.0M1128.1 898.4v35.0M1058.3 772.8h35.0M1075.8 755.3v35.0M1142.5 834.1h35.0M1160.0 816.6v35.0M1015.6 828.9h35.0M1033.1 811.4v35.0M958.1 873.2h35.0M975.6 855.7v35.0M1149.4 936.5h35.0M1166.9 919.0v35.0M941.8 953.6h35.0M959.3 936.1v35.0M999.5 704.6h35.0M1017.0 687.1v35.0M966.0 776.5h35.0M983.5 759.0v35.0M1054.0 771.6h35.0M1071.5 754.1v35.0M945.8 829.9h35.0M963.3 812.4v35.0M1193.0 796.6h35.0M1210.5 779.1v35.0M1087.9 856.1h35.0M1105.4 838.6v35.0M1133.4 752.6h35.0M1150.9 735.1v35.0M1011.8 842.7h35.0M1029.3 825.2v35.0M918.5 948.6h35.0M936.0 931.1v35.0M994.1 831.5h35.0M1011.6 814.0v35.0M1052.8 857.4h35.0M1070.3 839.9v35.0M1042.3 870.3h35.0M1059.8 852.8v35.0M1082.4 914.9h35.0M1099.9 897.4v35.0M1023.7 793.1h35.0M1041.2 775.6v35.0M977.9 895.0h35.0M995.4 877.5v35.0M1051.2 892.0h35.0M1068.7 874.5v35.0M1093.3 978.1h35.0M1110.8 960.6v35.0M1069.4 907.2h35.0M1086.9 889.7v35.0M967.9 767.9h35.0M985.4 750.4v35.0M1032.1 757.5h35.0M1049.6 740.0v35.0M1104.2 748.7h35.0M1121.7 731.2v35.0M975.0 824.2h35.0M992.5 806.7v35.0M1035.8 713.8h35.0M1053.3 696.3v35.0M1062.3 924.1h35.0M1079.8 906.6v35.0M1101.2 799.9h35.0M1118.7 782.4v35.0M1012.2 759.8h35.0M1029.7 742.3v35.0M1099.8 959.6h35.0M1117.3 942.1v35.0M1016.6 721.0h35.0M1034.1 703.5v35.0M1068.9 903.8h35.0M1086.4 886.3v35.0M1094.1 880.6h35.0M1111.6 863.1v35.0M1131.0 778.5h35.0M1148.5 761.0v35.0M993.6 881.0h35.0M1011.1 863.5v35.0M1005.2 869.7h35.0M1022.7 852.2v35.0M916.8 907.6h35.0M934.3 890.1v35.0M1115.5 853.3h35.0M1133.0 835.8v35.0M1066.3 973.2h35.0M1083.8 955.7v35.0M976.5 780.6h35.0M994.0 763.1v35.0M975.7 817.7h35.0M993.2 800.2v35.0M981.7 852.8h35.0M999.2 835.3v35.0M1007.6 739.9h35.0M1025.1 722.4v35.0M942.9 942.1h35.0M960.4 924.6v35.0M1049.5 832.7h35.0M1067.0 815.2v35.0M1056.4 843.7h35.0M1073.9 826.2v35.0M1108.9 892.7h35.0M1126.4 875.2v35.0M1012.0 787.4h35.0M1029.5 769.9v35.0M976.3 754.9h35.0M993.8 737.4v35.0M1155.5 780.3h35.0M1173.0 762.8v35.0M909.1 785.9h35.0M926.6 768.4v35.0M997.7 875.1h35.0M1015.2 857.6v35.0M990.7 890.6h35.0M1008.2 873.1v35.0M1082.5 946.3h35.0M1100.0 928.8v35.0M1151.8 761.9h35.0M1169.3 744.4v35.0M1025.4 868.8h35.0M1042.9 851.3v35.0M1203.4 901.4h35.0M1220.9 883.9v35.0M1141.1 836.8h35.0M1158.6 819.3v35.0M1097.0 904.6h35.0M1114.5 887.1v35.0M1021.6 909.1h35.0M1039.1 891.6v35.0M1131.6 838.0h35.0M1149.1 820.5v35.0M1127.8 975.2h35.0M1145.3 957.7v35.0M1059.3 850.0h35.0M1076.8 832.5v35.0M1032.2 802.9h35.0M1049.7 785.4v35.0M1065.7 818.7h35.0M1083.2 801.2v35.0M1032.0 791.2h35.0M1049.5 773.7v35.0M943.9 778.8h35.0M961.4 761.3v35.0M1078.2 760.1h35.0M1095.7 742.6v35.0M1007.8 974.8h35.0M1025.3 957.3v35.0M1135.6 797.3h35.0M1153.1 779.8v35.0M1097.9 800.6h35.0M1115.4 783.1v35.0M1171.7 805.5h35.0M1189.2 788.0v35.0M1060.4 955.2h35.0M1077.9 937.7v35.0M994.9 949.1h35.0M1012.4 931.6v35.0M995.6 868.1h35.0M1013.1 850.6v35.0M1033.2 843.3h35.0M1050.7 825.8v35.0M1066.0 844.3h35.0M1083.5 826.8v35.0M981.3 915.9h35.0M998.8 898.4v35.0M1106.4 948.0h35.0M1123.9 930.5v35.0M1154.2 747.9h35.0M1171.7 730.4v35.0M1147.1 948.6h35.0M1164.6 931.1v35.0M1016.2 928.8h35.0M1033.7 911.3v35.0M1160.2 809.0h35.0M1177.7 791.5v35.0M955.2 822.7h35.0M972.7 805.2v35.0M967.1 830.8h35.0M984.6 813.3v35.0M982.9 819.7h35.0M1000.4 802.2v35.0M1080.4 957.5h35.0M1097.9 940.0v35.0M1040.3 820.9h35.0M1057.8 803.4v35.0M1133.2 753.7h35.0M1150.7 736.2v35.0M964.8 744.3h35.0M982.3 726.8v35.0M1043.2 879.9h35.0M1060.7 862.4v35.0M1048.0 891.8h35.0M1065.5 874.3v35.0M1114.3 887.7h35.0M1131.8 870.2v35.0M996.3 829.6h35.0M1013.8 812.1v35.0M1144.4 770.5h35.0M1161.9 753.0v35.0M1036.3 818.3h35.0M1053.8 800.8v35.0M1041.5 768.2h35.0M1059.0 750.7v35.0M1122.6 795.8h35.0M1140.1 778.3v35.0M1050.3 901.4h35.0M1067.8 883.9v35.0M1029.8 896.9h35.0M1047.3 879.4v35.0M1010.2 822.8h35.0M1027.7 805.3v35.0M1048.4 815.2h35.0M1065.9 797.7v35.0M1073.3 886.2h35.0M1090.8 868.7v35.0M982.9 876.2h35.0M1000.4 858.7v35.0M1070.0 715.6h35.0M1087.5 698.1v35.0M896.0 886.2h35.0M913.5 868.7v35.0M985.8 926.2h35.0M1003.3 908.7v35.0M1208.6 805.7h35.0M1226.1 788.2v35.0M1004.9 849.1h35.0M1022.4 831.6v35.0M1103.1 763.7h35.0M1120.6 746.2v35.0M1144.2 925.3h35.0M1161.7 907.8v35.0M1102.1 809.0h35.0M1119.6 791.5v35.0M1120.5 915.1h35.0M1138.0 897.6v35.0M1032.9 878.1h35.0M1050.4 860.6v35.0M1016.8 879.3h35.0M1034.3 861.8v35.0M1138.0 788.6h35.0M1155.5 771.1v35.0M935.3 815.8h35.0M952.8 798.3v35.0M960.5 792.3h35.0M978.0 774.8v35.0M1045.4 845.1h35.0M1062.9 827.6v35.0M1147.4 772.9h35.0M1164.9 755.4v35.0M1079.9 811.4h35.0M1097.4 793.9v35.0M1076.3 977.2h35.0M1093.8 959.7v35.0M1016.3 728.4h35.0M1033.8 710.9v35.0M963.0 730.0h35.0M980.5 712.5v35.0M985.8 831.7h35.0M1003.3 814.2v35.0M1137.3 903.2h35.0M1154.8 885.7v35.0M1087.9 817.8h35.0M1105.4 800.3v35.0M1002.5 852.5h35.0M1020.0 835.0v35.0M1064.4 869.5h35.0M1081.9 852.0v35.0M1081.3 841.1h35.0M1098.8 823.6v35.0M915.9 765.2h35.0M933.4 747.7v35.0M995.1 979.0h35.0M1012.6 961.5v35.0M1023.7 901.3h35.0M1041.2 883.8v35.0M1159.9 875.3h35.0M1177.4 857.8v35.0M1026.2 827.7h35.0M1043.7 810.2v35.0M980.9 873.3h35.0M998.4 855.8v35.0M1135.7 893.3h35.0M1153.2 875.8v35.0M1110.0 904.5h35.0M1127.5 887.0v35.0M1198.8 801.8h35.0M1216.3 784.3v35.0M1065.8 903.6h35.0M1083.3 886.1v35.0M1016.9 834.2h35.0M1034.4 816.7v35.0M980.4 914.4h35.0M997.9 896.9v35.0M1070.3 819.9h35.0M1087.8 802.4v35.0M936.8 749.4h35.0M954.3 731.9v35.0M983.6 884.6h35.0M1001.1 867.1v35.0M949.9 805.0h35.0M967.4 787.5v35.0M1019.8 921.7h35.0M1037.3 904.2v35.0M1155.4 947.6h35.0M1172.9 930.1v35.0M1046.1 751.0h35.0M1063.6 733.5v35.0M1019.3 708.5h35.0M1036.8 691.0v35.0M1071.7 909.1h35.0M1089.2 891.6v35.0M918.2 846.1h35.0M935.7 828.6v35.0M1075.5 944.9h35.0M1093.0 927.4v35.0M1153.8 910.9h35.0M1171.3 893.4v35.0M1005.1 822.0h35.0M1022.6 804.5v35.0M1141.2 804.0h35.0M1158.7 786.5v35.0M1051.5 968.6h35.0M1069.0 951.1v35.0M1063.7 745.5h35.0M1081.2 728.0v35.0M1033.2 898.6h35.0M1050.7 881.1v35.0M1040.8 938.3h35.0M1058.3 920.8v35.0M1146.8 800.5h35.0M1164.3 783.0v35.0M1018.2 842.1h35.0M1035.7 824.6v35.0M968.0 878.7h35.0M985.5 861.2v35.0M1041.5 909.7h35.0M1059.0 892.2v35.0M1011.3 783.1h35.0M1028.8 765.6v35.0M1186.8 783.2h35.0M1204.3 765.7v35.0M1012.3 794.3h35.0M1029.8 776.8v35.0M1032.6 780.4h35.0M1050.1 762.9v35.0M1051.3 796.4h35.0M1068.8 778.9v35.0M1024.5 877.6h35.0M1042.0 860.1v35.0M1105.0 885.5h35.0M1122.5 868.0v35.0M1001.5 880.2h35.0M1019.0 862.7v35.0M1045.8 841.9h35.0M1063.3 824.4v35.0M930.5 901.0h35.0M948.0 883.5v35.0M1044.4 979.7h35.0M1061.9 962.2v35.0M1100.6 765.1h35.0M1118.1 747.6v35.0M955.7 937.5h35.0M973.2 920.0v35.0M991.5 902.0h35.0M1009.0 884.5v35.0M1032.8 1009.9h35.0M1050.3 992.4v35.0M1060.3 965.2h35.0M1077.8 947.7v35.0M1150.6 815.0h35.0M1168.1 797.5v35.0M1031.0 963.2h35.0M1048.5 945.7v35.0M1055.0 784.6h35.0M1072.5 767.1v35.0M1052.8 957.8h35.0M1070.3 940.3v35.0M1044.4 955.0h35.0M1061.9 937.5v35.0M1039.3 953.6h35.0M1056.8 936.1v35.0M1096.1 838.8h35.0M1113.6 821.3v35.0M1074.4 811.9h35.0M1091.9 794.4v35.0M976.6 773.2h35.0M994.1 755.7v35.0M1053.9 773.4h35.0M1071.4 755.9v35.0M1090.0 894.6h35.0M1107.5 877.1v35.0M1092.6 816.8h35.0M1110.1 799.3v35.0M1063.0 852.9h35.0M1080.5 835.4v35.0M1154.4 793.6h35.0M1171.9 776.1v35.0M1031.6 837.3h35.0M1049.1 819.8v35.0M1049.1 798.2h35.0M1066.6 780.7v35.0M1014.1 932.5h35.0M1031.6 915.0v35.0M1013.5 925.0h35.0M1031.0 907.5v35.0M929.4 914.2h35.0M946.9 896.7v35.0M1094.1 896.8h35.0M1111.6 879.3v35.0M942.5 913.1h35.0M960.0 895.6v35.0M981.1 953.7h35.0M998.6 936.2v35.0M1031.5 739.1h35.0M1049.0 721.6v35.0M1134.7 921.4h35.0M1152.2 903.9v35.0M1031.6 958.3h35.0M1049.1 940.8v35.0M1108.7 756.9h35.0M1126.2 739.4v35.0M1033.7 820.8h35.0M1051.2 803.3v35.0M1051.1 869.3h35.0M1068.6 851.8v35.0M1008.9 839.7h35.0M1026.4 822.2v35.0M1101.4 849.1h35.0M1118.9 831.6v35.0M1039.4 831.5h35.0M1056.9 814.0v35.0M1051.7 709.0h35.0M1069.2 691.5v35.0M1070.4 776.4h35.0M1087.9 758.9v35.0M1066.5 742.7h35.0M1084.0 725.2v35.0M1125.3 872.6h35.0M1142.8 855.1v35.0M961.6 872.6h35.0M979.1 855.1v35.0M1004.2 991.5h35.0M1021.7 974.0v35.0M1094.2 794.1h35.0M1111.7 776.6v35.0M1075.1 852.2h35.0M1092.6 834.7v35.0M1211.8 898.4h35.0M1229.3 880.9v35.0M1129.8 721.5h35.0M1147.3 704.0v35.0M1144.9 851.2h35.0M1162.4 833.7v35.0M1088.2 741.7h35.0M1105.7 724.2v35.0M1090.9 724.3h35.0M1108.4 706.8v35.0M1073.9 809.6h35.0M1091.4 792.1v35.0M969.0 925.8h35.0M986.5 908.3v35.0M889.9 851.4h35.0M907.4 833.9v35.0M1133.9 805.2h35.0M1151.4 787.7v35.0M961.3 871.5h35.0M978.8 854.0v35.0M1004.4 803.6h35.0M1021.9 786.1v35.0M1156.1 840.8h35.0M1173.6 823.3v35.0M881.3 830.0h35.0M898.8 812.5v35.0M976.8 820.5h35.0M994.3 803.0v35.0M936.6 999.9h35.0M954.1 982.4v35.0M1146.1 927.5h35.0M1163.6 910.0v35.0M939.3 867.8h35.0M956.8 850.3v35.0M1237.5 957.3h35.0M1255.0 939.8v35.0M978.3 890.3h35.0M995.8 872.8v35.0M1110.2 858.0h35.0M1127.7 840.5v35.0M1021.0 805.6h35.0M1038.5 788.1v35.0M994.3 908.8h35.0M1011.8 891.3v35.0M1003.5 682.6h35.0M1021.0 665.1v35.0M1131.9 685.4h35.0M1149.4 667.9v35.0M1112.7 805.6h35.0M1130.2 788.1v35.0M1137.0 948.3h35.0M1154.5 930.8v35.0M1221.3 793.8h35.0M1238.8 776.3v35.0M1030.7 851.6h35.0M1048.2 834.1v35.0M895.7 924.0h35.0M913.2 906.5v35.0M1080.7 691.8h35.0M1098.2 674.3v35.0M907.0 921.1h35.0M924.5 903.6v35.0M1215.0 953.2h35.0M1232.5 935.7v35.0M947.1 684.6h35.0M964.6 667.1v35.0M1050.8 792.6h35.0M1068.3 775.1v35.0M1063.6 839.6h35.0M1081.1 822.1v35.0M1127.7 784.6h35.0M1145.2 767.1v35.0M1048.6 940.0h35.0M1066.1 922.5v35.0M1098.6 877.6h35.0M1116.1 860.1v35.0M954.4 914.5h35.0M971.9 897.0v35.0M1057.5 949.2h35.0M1075.0 931.7v35.0M1154.9 728.1h35.0M1172.4 710.6v35.0M1077.4 1037.0h35.0M1094.9 1019.5v35.0M1056.1 774.4h35.0M1073.6 756.9v35.0M1088.1 828.6h35.0M1105.6 811.1v35.0M1034.4 806.0h35.0M1051.9 788.5v35.0M1013.6 782.2h35.0M1031.1 764.7v35.0M1212.0 817.2h35.0M1229.5 799.7v35.0M1219.6 870.6h35.0M1237.1 853.1v35.0M1060.3 675.3h35.0M1077.8 657.8v35.0M1208.4 915.5h35.0M1225.9 898.0v35.0M1111.7 836.5h35.0M1129.2 819.0v35.0M1013.0 698.4h35.0M1030.5 680.9v35.0M1176.5 882.8h35.0M1194.0 865.3v35.0M1019.9 774.9h35.0M1037.4 757.4v35.0M1077.0 839.6h35.0M1094.5 822.1v35.0M991.5 717.9h35.0M1009.0 700.4v35.0M1034.8 741.2h35.0M1052.3 723.7v35.0M1072.2 899.1h35.0M1089.7 881.6v35.0M1139.5 900.7h35.0M1157.0 883.2v35.0M1040.5 923.0h35.0M1058.0 905.5v35.0M956.8 841.7h35.0M974.3 824.2v35.0M1161.1 885.8h35.0M1178.6 868.3v35.0M911.2 712.7h35.0M928.7 695.2v35.0M878.1 835.0h35.0M895.6 817.5v35.0M1222.4 792.0h35.0M1239.9 774.5v35.0M1060.1 901.6h35.0M1077.6 884.1v35.0M1026.7 850.5h35.0M1044.2 833.0v35.0M1109.5 1018.6h35.0M1127.0 1001.1v35.0M956.6 680.8h35.0M974.1 663.3v35.0M1067.8 876.9h35.0M1085.3 859.4v35.0M1234.2 938.5h35.0M1251.7 921.0v35.0M989.9 920.4h35.0M1007.4 902.9v35.0M1198.8 886.7h35.0M1216.3 869.2v35.0M1024.1 933.6h35.0M1041.6 916.1v35.0M1024.5 814.2h35.0M1042.0 796.7v35.0M1024.3 817.8h35.0M1041.8 800.3v35.0M891.5 914.9h35.0M909.0 897.4v35.0M1067.5 856.3h35.0M1085.0 838.8v35.0M1192.7 983.4h35.0M1210.2 965.9v35.0M1118.3 666.8h35.0M1135.8 649.3v35.0M1089.4 852.9h35.0M1106.9 835.4v35.0M1072.1 779.3h35.0M1089.6 761.8v35.0M957.2 946.9h35.0M974.7 929.4v35.0M1180.2 717.2h35.0M1197.7 699.7v35.0M1128.6 831.1h35.0M1146.1 813.6v35.0M1017.3 933.5h35.0M1034.8 916.0v35.0M1057.7 784.8h35.0M1075.2 767.3v35.0M992.5 798.2h35.0M1010.0 780.7v35.0M895.6 872.0h35.0M913.1 854.5v35.0M1095.3 778.1h35.0M1112.8 760.6v35.0M1042.3 930.9h35.0M1059.8 913.4v35.0M1189.6 758.6h35.0M1207.1 741.1v35.0M1102.9 974.1h35.0M1120.4 956.6v35.0M1058.4 756.8h35.0M1075.9 739.3v35.0M969.7 810.5h35.0M987.2 793.0v35.0M992.9 894.0h35.0M1010.4 876.5v35.0M1083.1 924.9h35.0M1100.6 907.4v35.0M1014.6 692.4h35.0M1032.1 674.9v35.0M1257.3 838.7h35.0M1274.8 821.2v35.0M1074.5 872.0h35.0M1092.0 854.5v35.0M1211.9 940.3h35.0M1229.4 922.8v35.0M1201.4 946.7h35.0M1218.9 929.2v35.0M1079.0 878.6h35.0M1096.5 861.1v35.0M1032.0 719.4h35.0M1049.5 701.9v35.0M1201.2 782.1h35.0M1218.7 764.6v35.0M915.7 754.5h35.0M933.2 737.0v35.0M945.7 864.1h35.0M963.2 846.6v35.0M1180.4 994.7h35.0M1197.9 977.2v35.0M1110.9 830.5h35.0M1128.4 813.0v35.0M978.3 667.1h35.0M995.8 649.6v35.0M956.3 802.5h35.0M973.8 785.0v35.0M896.7 874.5h35.0M914.2 857.0v35.0M934.8 888.4h35.0M952.3 870.9v35.0M1011.3 758.0h35.0M1028.8 740.5v35.0M900.7 836.9h35.0M918.2 819.4v35.0M973.2 774.6h35.0M990.7 757.1v35.0M984.2 870.5h35.0M1001.7 853.0v35.0M1078.4 642.4h35.0M1095.9 624.9v35.0M1041.2 895.8h35.0M1058.7 878.3v35.0M1185.2 942.0h35.0M1202.7 924.5v35.0M1085.6 710.9h35.0M1103.1 693.4v35.0M968.1 957.7h35.0M985.6 940.2v35.0M976.2 971.2h35.0M993.7 953.7v35.0M1213.4 720.5h35.0M1230.9 703.0v35.0M1113.4 834.6h35.0M1130.9 817.1v35.0M999.2 896.9h35.0M1016.7 879.4v35.0M950.4 829.8h35.0M967.9 812.3v35.0M1085.1 865.9h35.0M1102.6 848.4v35.0M1097.4 739.2h35.0M1114.9 721.7v35.0M953.4 764.0h35.0M970.9 746.5v35.0M1039.6 676.0h35.0M1057.1 658.5v35.0M904.7 891.3h35.0M922.2 873.8v35.0M1188.8 813.4h35.0M1206.3 795.9v35.0M1076.7 878.6h35.0M1094.2 861.1v35.0M1079.2 896.7h35.0M1096.7 879.2v35.0M1174.5 895.5h35.0M1192.0 878.0v35.0M928.4 778.3h35.0M945.9 760.8v35.0M877.6 871.2h35.0M895.1 853.7v35.0M1083.6 909.4h35.0M1101.1 891.9v35.0M944.1 711.2h35.0M961.6 693.7v35.0M1243.6 869.9h35.0M1261.1 852.4v35.0M885.1 944.7h35.0M902.6 927.2v35.0M1208.7 793.9h35.0M1226.2 776.4v35.0M1043.7 881.3h35.0M1061.2 863.8v35.0M987.5 967.9h35.0M1005.0 950.4v35.0M1130.0 879.3h35.0M1147.5 861.8v35.0M1103.0 760.9h35.0M1120.5 743.4v35.0M1156.5 975.2h35.0M1174.0 957.7v35.0M1100.1 855.8h35.0M1117.6 838.3v35.0M1017.0 841.5h35.0M1034.5 824.0v35.0M1045.2 957.9h35.0M1062.7 940.4v35.0M1235.6 929.4h35.0M1253.1 911.9v35.0M926.7 743.8h35.0M944.2 726.3v35.0M980.5 840.7h35.0M998.0 823.2v35.0M1008.8 805.5h35.0M1026.3 788.0v35.0M949.3 961.4h35.0M966.8 943.9v35.0M1162.2 962.0h35.0M1179.7 944.5v35.0M1050.4 902.1h35.0M1067.9 884.6v35.0M950.7 726.1h35.0M968.2 708.6v35.0M994.8 917.7h35.0M1012.3 900.2v35.0M1042.2 710.5h35.0M1059.7 693.0v35.0M1071.3 898.4h35.0M1088.8 880.9v35.0M1079.7 767.7h35.0M1097.2 750.2v35.0M1067.9 797.1h35.0M1085.4 779.6v35.0M1021.2 837.0h35.0M1038.7 819.5v35.0M1247.3 923.2h35.0M1264.8 905.7v35.0M1012.3 810.8h35.0M1029.8 793.3v35.0M1028.5 986.1h35.0M1046.0 968.6v35.0M1219.4 738.7h35.0M1236.9 721.2v35.0M1241.2 907.8h35.0M1258.7 890.3v35.0M1211.1 751.7h35.0M1228.6 734.2v35.0M1137.3 881.7h35.0M1154.8 864.2v35.0M1214.5 983.8h35.0M1232.0 966.3v35.0M970.6 1011.2h35.0M988.1 993.7v35.0M1149.9 867.0h35.0M1167.4 849.5v35.0M1216.9 959.1h35.0M1234.4 941.6v35.0M1150.0 787.1h35.0M1167.5 769.6v35.0M1160.5 715.0h35.0M1178.0 697.5v35.0M1045.3 644.8h35.0M1062.8 627.3v35.0M1050.7 858.2h35.0M1068.2 840.7v35.0M1131.5 890.0h35.0M1149.0 872.5v35.0M954.1 856.8h35.0M971.6 839.3v35.0M1052.5 785.6h35.0M1070.0 768.1v35.0M1045.6 804.2h35.0M1063.1 786.7v35.0M982.6 807.9h35.0M1000.1 790.4v35.0M962.5 910.6h35.0M980.0 893.1v35.0M1020.5 864.7h35.0M1038.0 847.2v35.0M1213.8 966.5h35.0M1231.3 949.0v35.0M881.5 914.6h35.0M899.0 897.1v35.0M1033.2 922.3h35.0M1050.7 904.8v35.0M1078.8 936.3h35.0M1096.3 918.8v35.0M1095.5 831.2h35.0M1113.0 813.7v35.0M1008.5 733.3h35.0M1026.0 715.8v35.0M1043.2 796.4h35.0M1060.7 778.9v35.0M1042.7 789.1h35.0M1060.2 771.6v35.0M1004.1 650.7h35.0M1021.6 633.2v35.0M1056.0 885.0h35.0M1073.5 867.5v35.0M988.9 769.2h35.0M1006.4 751.7v35.0M1083.1 894.5h35.0M1100.6 877.0v35.0M1024.5 788.0h35.0M1042.0 770.5v35.0M856.4 884.0h35.0M873.9 866.5v35.0M1057.6 817.3h35.0M1075.1 799.8v35.0M1178.3 764.8h35.0M1195.8 747.3v35.0M1166.0 928.4h35.0M1183.5 910.9v35.0M1130.0 939.4h35.0M1147.5 921.9v35.0M915.3 791.1h35.0M932.8 773.6v35.0M1141.9 696.5h35.0M1159.4 679.0v35.0M1052.8 725.0h35.0M1070.3 707.5v35.0M1104.4 759.9h35.0M1121.9 742.4v35.0M1031.4 711.4h35.0M1048.9 693.9v35.0M1114.6 876.4h35.0M1132.1 858.9v35.0M1113.0 725.5h35.0M1130.5 708.0v35.0M1184.5 963.7h35.0M1202.0 946.2v35.0M1079.6 885.5h35.0M1097.1 868.0v35.0M1041.6 925.2h35.0M1059.1 907.7v35.0M962.0 914.6h35.0M979.5 897.1v35.0M1109.3 678.8h35.0M1126.8 661.3v35.0M1041.1 994.2h35.0M1058.6 976.7v35.0M1067.4 788.3h35.0M1084.9 770.8v35.0M897.3 837.4h35.0M914.8 819.9v35.0M990.4 715.7h35.0M1007.9 698.2v35.0M1046.0 974.8h35.0M1063.5 957.3v35.0M1071.6 722.1h35.0M1089.1 704.6v35.0M1099.8 716.2h35.0M1117.3 698.7v35.0M871.2 907.3h35.0M888.7 889.8v35.0M994.5 981.6h35.0M1012.0 964.1v35.0M1097.8 751.2h35.0M1115.3 733.7v35.0M1086.8 1003.5h35.0M1104.3 986.0v35.0M1037.9 720.7h35.0M1055.4 703.2v35.0M981.1 750.4h35.0M998.6 732.9v35.0M1111.2 981.1h35.0M1128.7 963.6v35.0M1017.1 942.4h35.0M1034.6 924.9v35.0M1038.1 806.1h35.0M1055.6 788.6v35.0M1111.0 859.7h35.0M1128.5 842.2v35.0M1096.7 1003.6h35.0M1114.2 986.1v35.0M1009.0 874.0h35.0M1026.5 856.5v35.0M942.8 828.9h35.0M960.3 811.4v35.0M979.7 757.1h35.0M997.2 739.6v35.0M1034.1 794.4h35.0M1051.6 776.9v35.0M1105.1 944.5h35.0M1122.6 927.0v35.0M1145.7 769.9h35.0M1163.2 752.4v35.0M1033.0 754.2h35.0M1050.5 736.7v35.0M1083.1 1003.9h35.0M1100.6 986.4v35.0M1203.5 928.2h35.0M1221.0 910.7v35.0M1090.3 756.1h35.0M1107.8 738.6v35.0M1206.7 922.8h35.0M1224.2 905.3v35.0M959.2 694.5h35.0M976.7 677.0v35.0M985.1 977.8h35.0M1002.6 960.3v35.0M967.4 804.8h35.0M984.9 787.3v35.0M1226.4 874.4h35.0M1243.9 856.9v35.0M1152.2 689.5h35.0M1169.7 672.0v35.0M1016.2 846.1h35.0M1033.7 828.6v35.0M1018.0 798.4h35.0M1035.5 780.9v35.0M1078.4 673.6h35.0M1095.9 656.1v35.0M1190.2 856.7h35.0M1207.7 839.2v35.0M1147.4 825.9h35.0M1164.9 808.4v35.0M967.7 758.3h35.0M985.2 740.8v35.0M1103.2 942.6h35.0M1120.7 925.1v35.0M1121.0 927.3h35.0M1138.5 909.8v35.0M1206.9 884.7h35.0M1224.4 867.2v35.0M1183.4 983.5h35.0M1200.9 966.0v35.0M1098.5 842.0h35.0M1116.0 824.5v35.0M1011.7 707.2h35.0M1029.2 689.7v35.0M1063.0 786.4h35.0M1080.5 768.9v35.0M1072.4 973.6h35.0M1089.9 956.1v35.0M884.2 836.2h35.0M901.7 818.7v35.0M882.6 858.4h35.0M900.1 840.9v35.0M914.7 805.9h35.0M932.2 788.4v35.0M879.6 935.7h35.0M897.1 918.2v35.0M882.3 728.4h35.0M899.8 710.9v35.0M903.1 877.9h35.0M920.6 860.4v35.0M916.4 791.0h35.0M933.9 773.5v35.0M919.0 848.7h35.0M936.5 831.2v35.0M898.9 927.4h35.0M916.4 909.9v35.0M879.2 787.9h35.0M896.7 770.4v35.0M892.7 832.8h35.0M910.2 815.3v35.0M895.5 808.0h35.0M913.0 790.5v35.0M904.1 793.1h35.0M921.6 775.6v35.0M917.1 823.1h35.0M934.6 805.6v35.0M906.4 761.3h35.0M923.9 743.8v35.0M884.4 843.0h35.0M901.9 825.5v35.0" fill="none" stroke="#00f" stroke-width="3.7" shape-rendering="crispEdges"/></g><path d="M280.0 1496v-21M280.0 29v21M545.3 1496v-21M545.3 29v21M810.7 1496v-21M810.7 29v21M1076.0 1496v-21M1076.0 29v21M1341.3 1496v-21M1341.3 29v21M1606.7 1496v-21M1606.7 29v21M1872.0 1496v-21M1872.0 29v21" stroke="#212121" stroke-width="3.8" fill="none" shape-rendering="crispEdges"/><path d="M241.2 1438.8h21M2098 1438.8h-21M241.2 1292.1h21M2098 1292.1h-21M241.2 1145.5h21M2098 1145.5h-21M241.2 998.8h21M2098 998.8h-21M241.2 852.1h21M2098 852.1h-21M241.2 705.4h21M2098 705.4h-21M241.2 558.8h21M2098 558.8h-21M241.2 412.1h21M2098 412.1h-21M241.2 265.4h21M2098 265.4h-21" stroke="#212121" stroke-width="3.0" fill="none" shape-rendering="crispEdges"/><rect x="241.2" y="29" width="1856.8" height="1467" fill="none" stroke="#212121" stroke-width="3.8" shape-rendering="crispEdges"/><g style="font-family:'Liberation Serif',serif;font-size:60.0px" fill="#212121" stroke="#212121" stroke-width="0.9"><text x="222.08" y="1571.20" textLength="43.63" lengthAdjust="spacingAndGlyphs">−</text><text x="265.45" y="1566.90">0.6</text><text x="486.99" y="1571.20" textLength="43.63" lengthAdjust="spacingAndGlyphs">−</text><text x="530.36" y="1566.90">0.4</text><text x="753.51" y="1571.20" textLength="43.63" lengthAdjust="spacingAndGlyphs">−</text><text x="796.88" y="1566.90">0.2</text><text x="1061.30" y="1566.90">0</text><text x="1304.65" y="1566.90">0.2</text><text x="1568.79" y="1566.90">0.4</text><text x="1834.55" y="1566.90">0.6</text><text x="99.67" y="1457.90" textLength="43.63" lengthAdjust="spacingAndGlyphs">−</text><text x="143.04" y="1453.60">0.4</text><text x="101.08" y="1311.22" textLength="43.63" lengthAdjust="spacingAndGlyphs">−</text><text x="144.44" y="1306.92">0.3</text><text x="102.04" y="1164.55" textLength="43.63" lengthAdjust="spacingAndGlyphs">−</text><text x="145.41" y="1160.25">0.2</text><text x="102.34" y="1017.88" textLength="43.63" lengthAdjust="spacingAndGlyphs">−</text><text x="145.70" y="1013.58">0.1</text><text x="189.39" y="866.90">0</text><text x="145.70" y="720.22">0.1</text><text x="145.41" y="573.55">0.2</text><text x="144.44" y="426.87">0.3</text><text x="143.04" y="280.20">0.4</text></g><text x="1168" y="1657" text-anchor="middle" style="font-family:'Liberation Sans',sans-serif;font-size:64.5px" fill="#212121" textLength="753" lengthAdjust="spacingAndGlyphs">X direction calibration error</text><text transform="translate(65.8,764) rotate(-90)" x="0" y="0" text-anchor="middle" style="font-family:'Liberation Sans',sans-serif;font-size:64.5px" fill="#404040" textLength="752" lengthAdjust="spacingAndGlyphs">Y direction calibration error</text><rect x="1058" y="75.5" width="993" height="154" fill="#fff" stroke="#212121" stroke-width="3.2" shape-rendering="crispEdges"/><circle cx="1161" cy="118" r="17.2" fill="none" stroke="#f00" stroke-width="4.3" shape-rendering="crispEdges"/><path d="M1143 187.5h36M1161 169.5v36" stroke="#00f" stroke-width="3.7" fill="none" shape-rendering="crispEdges"/><text x="1259" y="138.8" style="font-family:'Liberation Sans',sans-serif;font-size:52px" fill="#000" textLength="740" lengthAdjust="spacingAndGlyphs">Left camera calibration deviation</text><text x="1258.5" y="208.5" style="font-family:'Liberation Sans',sans-serif;font-size:52px" fill="#000" textLength="775" lengthAdjust="spacingAndGlyphs">Right camera calibration deviation</text></svg></body></html>
